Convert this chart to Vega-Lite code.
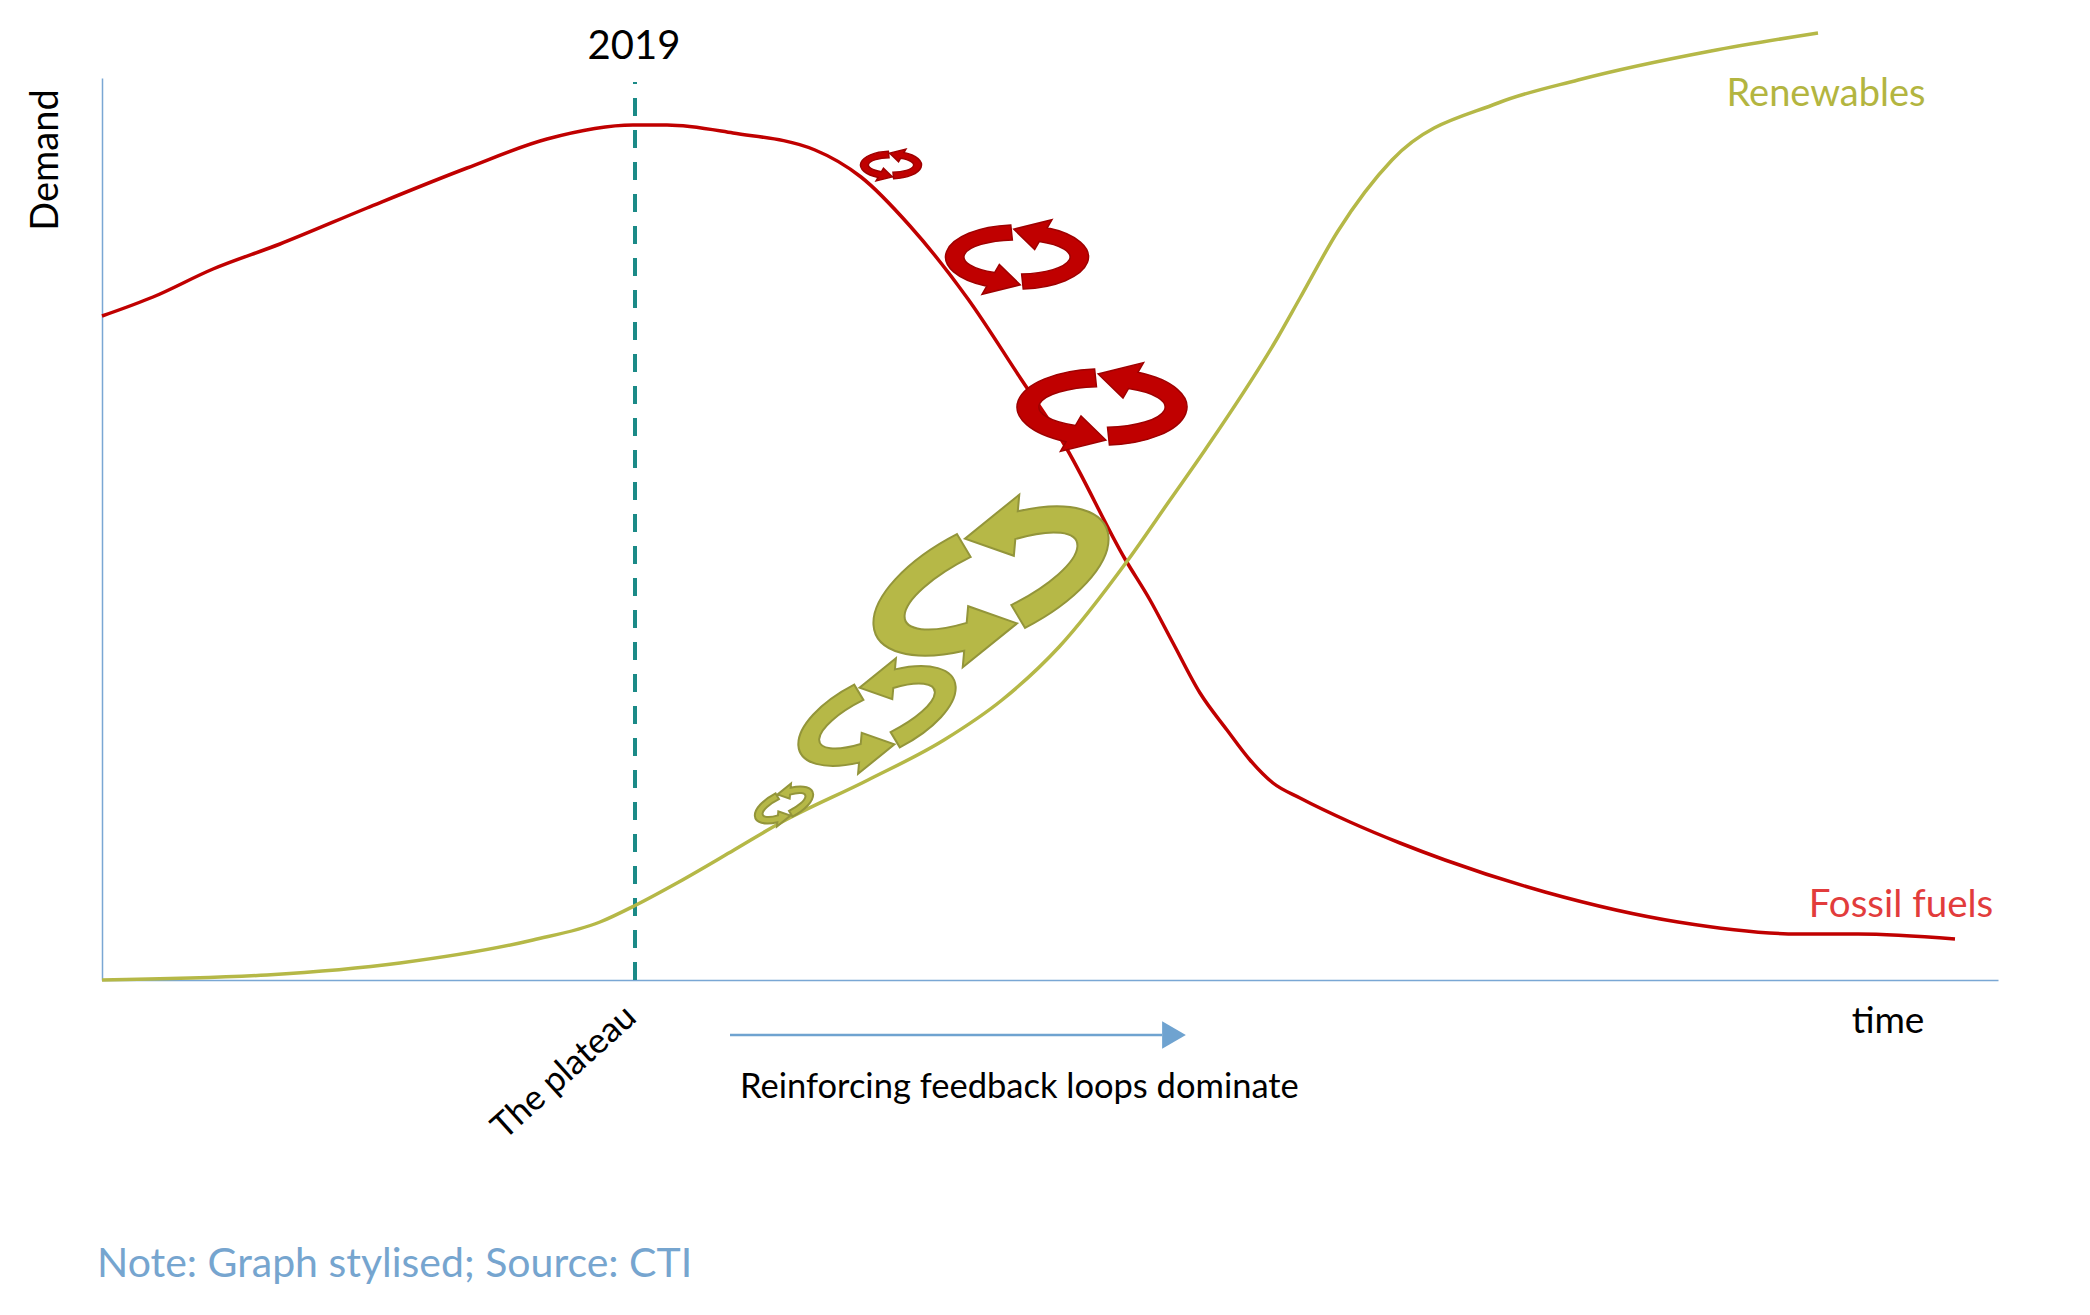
{
  "$schema": "https://vega.github.io/schema/vega-lite/v6.json",
  "width": 1896,
  "height": 902,
  "autosize": {"type": "none"},
  "padding": {"left": 102, "top": 78, "right": 92, "bottom": 335},
  "background": "white",
  "config": {"view": {"stroke": null}, "font": "Lato", "text": {"font": "Lato"}},
  "datasets": {
    "curves": [
      {"series": "Fossil fuels", "t": 0, "demand": 664},
      {"series": "Fossil fuels", "t": 51, "demand": 683},
      {"series": "Fossil fuels", "t": 111, "demand": 711},
      {"series": "Fossil fuels", "t": 178, "demand": 736},
      {"series": "Fossil fuels", "t": 265, "demand": 772},
      {"series": "Fossil fuels", "t": 365, "demand": 812},
      {"series": "Fossil fuels", "t": 445, "demand": 841},
      {"series": "Fossil fuels", "t": 531, "demand": 855},
      {"series": "Fossil fuels", "t": 565, "demand": 855},
      {"series": "Fossil fuels", "t": 631, "demand": 847},
      {"series": "Fossil fuels", "t": 713, "demand": 830},
      {"series": "Fossil fuels", "t": 759, "demand": 803},
      {"series": "Fossil fuels", "t": 808, "demand": 754},
      {"series": "Fossil fuels", "t": 866, "demand": 681},
      {"series": "Fossil fuels", "t": 919, "demand": 601},
      {"series": "Fossil fuels", "t": 962, "demand": 536},
      {"series": "Fossil fuels", "t": 1023, "demand": 421},
      {"series": "Fossil fuels", "t": 1048, "demand": 380},
      {"series": "Fossil fuels", "t": 1071, "demand": 337},
      {"series": "Fossil fuels", "t": 1098, "demand": 287},
      {"series": "Fossil fuels", "t": 1125, "demand": 250},
      {"series": "Fossil fuels", "t": 1148, "demand": 220},
      {"series": "Fossil fuels", "t": 1171, "demand": 197},
      {"series": "Fossil fuels", "t": 1198, "demand": 182},
      {"series": "Fossil fuels", "t": 1248, "demand": 158},
      {"series": "Fossil fuels", "t": 1298, "demand": 137},
      {"series": "Fossil fuels", "t": 1343, "demand": 120},
      {"series": "Fossil fuels", "t": 1443, "demand": 88},
      {"series": "Fossil fuels", "t": 1576, "demand": 58},
      {"series": "Fossil fuels", "t": 1696, "demand": 46},
      {"series": "Fossil fuels", "t": 1756, "demand": 46},
      {"series": "Fossil fuels", "t": 1853, "demand": 41},
      {"series": "Renewables", "t": 0, "demand": 0},
      {"series": "Renewables", "t": 165, "demand": 5},
      {"series": "Renewables", "t": 298, "demand": 17},
      {"series": "Renewables", "t": 431, "demand": 40},
      {"series": "Renewables", "t": 498, "demand": 58},
      {"series": "Renewables", "t": 534, "demand": 75},
      {"series": "Renewables", "t": 575, "demand": 97},
      {"series": "Renewables", "t": 632, "demand": 130},
      {"series": "Renewables", "t": 678, "demand": 157},
      {"series": "Renewables", "t": 766, "demand": 200},
      {"series": "Renewables", "t": 842, "demand": 240},
      {"series": "Renewables", "t": 900, "demand": 280},
      {"series": "Renewables", "t": 957, "demand": 333},
      {"series": "Renewables", "t": 1026, "demand": 420},
      {"series": "Renewables", "t": 1068, "demand": 480},
      {"series": "Renewables", "t": 1103, "demand": 530},
      {"series": "Renewables", "t": 1176, "demand": 643},
      {"series": "Renewables", "t": 1198, "demand": 682},
      {"series": "Renewables", "t": 1236, "demand": 749},
      {"series": "Renewables", "t": 1290, "demand": 820},
      {"series": "Renewables", "t": 1396, "demand": 877},
      {"series": "Renewables", "t": 1476, "demand": 900},
      {"series": "Renewables", "t": 1609, "demand": 929},
      {"series": "Renewables", "t": 1716, "demand": 947}
    ],
    "loops": [
      {"series": "Fossil fuels", "stage": 1, "t": 789, "demand": 815},
      {"series": "Fossil fuels", "stage": 2, "t": 915, "demand": 723},
      {"series": "Fossil fuels", "stage": 3, "t": 1000, "demand": 573},
      {"series": "Renewables", "stage": 1, "t": 682, "demand": 175},
      {"series": "Renewables", "stage": 2, "t": 775, "demand": 264},
      {"series": "Renewables", "stage": 3, "t": 889, "demand": 399}
    ],
    "labels": [
      {"role": "year", "label": "2019", "t": 532, "demand": 933},
      {"role": "ytitle", "label": "Demand", "t": -55, "demand": 820},
      {"role": "ren", "label": "Renewables", "t": 1724, "demand": 885},
      {"role": "fos", "label": "Fossil fuels", "t": 1799, "demand": 75},
      {"role": "xtitle", "label": "time", "t": 1786, "demand": -42},
      {"role": "phase", "label": "Reinforcing feedback loops dominate", "t": 638, "demand": -108},
      {"role": "plateau", "label": "The plateau", "t": 462, "demand": -92},
      {"role": "note", "label": "Note: Graph stylised; Source: CTI", "t": -5, "demand": -285}
    ],
    "events": [
      {"event": "2019", "t": 533}
    ]
  },
  "layer": [
    {
      "data": {"name": "events"},
      "mark": {"type": "rule", "color": "#1b8a87", "strokeWidth": 4, "strokeDash": [18, 14]},
      "encoding": {
        "x": {"field": "t", "type": "quantitative", "scale": {"domain": [0, 1896], "nice": false, "zero": false},
              "axis": {"domain": true, "domainColor": "#7aa7d4", "domainWidth": 1.5, "ticks": false, "labels": false, "grid": false, "title": null}},
        "y": {"datum": 0, "type": "quantitative", "scale": {"domain": [0, 902], "nice": false},
              "axis": {"domain": true, "domainColor": "#7aa7d4", "domainWidth": 1.5, "ticks": false, "labels": false, "grid": false, "title": null}},
        "y2": {"datum": 898}
      }
    },
    {
      "data": {"name": "curves"},
      "mark": {"type": "line", "interpolate": "monotone", "strokeWidth": 3.5, "strokeCap": "butt"},
      "encoding": {
        "x": {"field": "t", "type": "quantitative"},
        "y": {"field": "demand", "type": "quantitative"},
        "color": {"field": "series", "type": "nominal", "scale": {"domain": ["Fossil fuels", "Renewables"], "range": ["#c00000", "#b5b847"]}, "legend": null}
      }
    },
    {
      "data": {"name": "loops"},
      "transform": [{"filter": "datum.series === 'Fossil fuels'"}],
      "mark": {"type": "point", "filled": true, "opacity": 1, "fill": "#c00000", "stroke": "#9e0000", "strokeWidth": 1.5, "angle": 0,
               "shape": "M-0.087,-0.448 A1,0.45 0 0 0 -0.423,0.408 L-0.489,0.522 L0.045,0.389 L-0.247,0.104 L-0.313,0.218 A0.74,0.24 0 0 1 -0.065,-0.239 Z M0.087,0.448 A1,0.45 0 0 0 0.423,-0.408 L0.489,-0.522 L-0.045,-0.389 L0.247,-0.104 L0.313,-0.218 A0.74,0.24 0 0 1 0.065,0.239 Z"},
      "encoding": {
        "x": {"field": "t", "type": "quantitative"},
        "y": {"field": "demand", "type": "quantitative"},
        "size": {"field": "stage", "type": "ordinal", "scale": {"type": "ordinal", "domain": [1, 2, 3], "range": [3721, 20449, 28900]}, "legend": null}
      }
    },
    {
      "data": {"name": "loops"},
      "transform": [{"filter": "datum.series === 'Renewables'"}],
      "mark": {"type": "point", "filled": true, "opacity": 1, "fill": "#b6b847", "stroke": "#93953a", "strokeWidth": 2, "angle": 335,
               "shape": "M-0.087,-0.448 A1,0.45 0 0 0 -0.423,0.408 L-0.489,0.522 L0.045,0.389 L-0.247,0.104 L-0.313,0.218 A0.74,0.24 0 0 1 -0.065,-0.239 Z M0.087,0.448 A1,0.45 0 0 0 0.423,-0.408 L0.489,-0.522 L-0.045,-0.389 L0.247,-0.104 L0.313,-0.218 A0.74,0.24 0 0 1 0.065,0.239 Z"},
      "encoding": {
        "x": {"field": "t", "type": "quantitative"},
        "y": {"field": "demand", "type": "quantitative"},
        "size": {"field": "stage", "type": "ordinal", "scale": {"type": "ordinal", "domain": [1, 2, 3], "range": [3969, 28900, 64516]}, "legend": null}
      }
    },
    {
      "data": {"name": "events"},
      "mark": {"type": "rule", "color": "#6fa3d0", "strokeWidth": 2.5},
      "encoding": {
        "x": {"datum": 628, "type": "quantitative"},
        "x2": {"datum": 1060},
        "y": {"datum": -55, "type": "quantitative"}
      }
    },
    {
      "data": {"name": "events"},
      "mark": {"type": "point", "shape": "triangle-right", "filled": true, "opacity": 1, "color": "#6fa3d0", "size": 750},
      "encoding": {
        "x": {"datum": 1072, "type": "quantitative"},
        "y": {"datum": -55, "type": "quantitative"}
      }
    },
    {
      "data": {"name": "labels"},
      "transform": [{"filter": "datum.role === 'year'"}],
      "mark": {"type": "text", "fontSize": 40, "color": "#000000", "align": "center", "baseline": "middle"},
      "encoding": {"x": {"field": "t", "type": "quantitative"}, "y": {"field": "demand", "type": "quantitative"}, "text": {"field": "label"}}
    },
    {
      "data": {"name": "labels"},
      "transform": [{"filter": "datum.role === 'ytitle'"}],
      "mark": {"type": "text", "fontSize": 38, "color": "#000000", "align": "center", "baseline": "middle", "angle": 270},
      "encoding": {"x": {"field": "t", "type": "quantitative"}, "y": {"field": "demand", "type": "quantitative"}, "text": {"field": "label"}}
    },
    {
      "data": {"name": "labels"},
      "transform": [{"filter": "datum.role === 'ren'"}],
      "mark": {"type": "text", "fontSize": 38, "color": "#b3b540", "align": "center", "baseline": "middle"},
      "encoding": {"x": {"field": "t", "type": "quantitative"}, "y": {"field": "demand", "type": "quantitative"}, "text": {"field": "label"}}
    },
    {
      "data": {"name": "labels"},
      "transform": [{"filter": "datum.role === 'fos'"}],
      "mark": {"type": "text", "fontSize": 38.5, "color": "#e23c3c", "align": "center", "baseline": "middle"},
      "encoding": {"x": {"field": "t", "type": "quantitative"}, "y": {"field": "demand", "type": "quantitative"}, "text": {"field": "label"}}
    },
    {
      "data": {"name": "labels"},
      "transform": [{"filter": "datum.role === 'xtitle'"}],
      "mark": {"type": "text", "fontSize": 37, "color": "#000000", "align": "center", "baseline": "middle"},
      "encoding": {"x": {"field": "t", "type": "quantitative"}, "y": {"field": "demand", "type": "quantitative"}, "text": {"field": "label"}}
    },
    {
      "data": {"name": "labels"},
      "transform": [{"filter": "datum.role === 'phase'"}],
      "mark": {"type": "text", "fontSize": 34.5, "color": "#000000", "align": "left", "baseline": "middle"},
      "encoding": {"x": {"field": "t", "type": "quantitative"}, "y": {"field": "demand", "type": "quantitative"}, "text": {"field": "label"}}
    },
    {
      "data": {"name": "labels"},
      "transform": [{"filter": "datum.role === 'plateau'"}],
      "mark": {"type": "text", "fontSize": 35, "color": "#000000", "align": "center", "baseline": "middle", "angle": 318},
      "encoding": {"x": {"field": "t", "type": "quantitative"}, "y": {"field": "demand", "type": "quantitative"}, "text": {"field": "label"}}
    },
    {
      "data": {"name": "labels"},
      "transform": [{"filter": "datum.role === 'note'"}],
      "mark": {"type": "text", "fontSize": 41, "color": "#76a5cf", "align": "left", "baseline": "middle"},
      "encoding": {"x": {"field": "t", "type": "quantitative"}, "y": {"field": "demand", "type": "quantitative"}, "text": {"field": "label"}}
    }
  ],
  "resolve": {"scale": {"size": "independent"}}
}
